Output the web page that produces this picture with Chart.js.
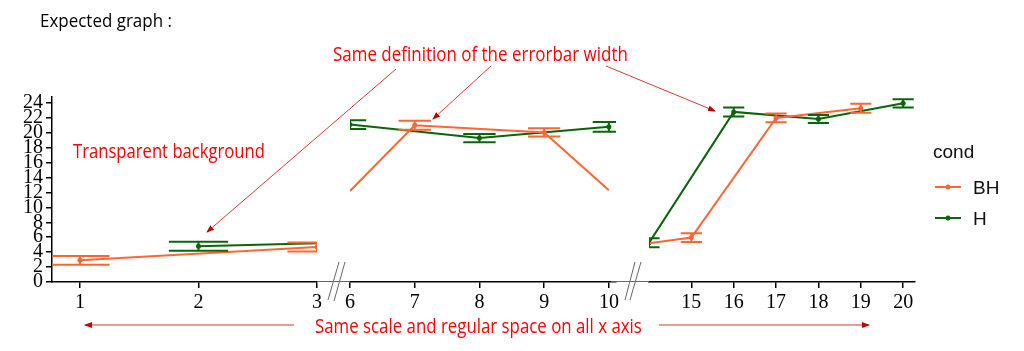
<!DOCTYPE html>
<html>
<head>
<meta charset="utf-8">
<script src="https://cdn.jsdelivr.net/npm/chart.js@4.4.1/dist/chart.umd.min.js"></script>
<style>
  html, body { margin: 0; padding: 0; background: #fff; }
  #wrap { position: relative; width: 1024px; height: 351px; overflow: hidden; }
  #wrap canvas { position: absolute; top: 0; }
  .ann { position: absolute; white-space: nowrap; line-height: 1; transform-origin: left center;
         font-family: "Liberation Sans Narrow", "Open Sans", sans-serif; color: #ff0000; }
  #legend { position: absolute; left: 933px; top: 140px; font-family: "Liberation Sans", Arial, sans-serif; color: #111; }
  #legend .title { font-size: 19px; line-height: 24px; margin-bottom: 8px; }
  #legend .item { position: relative; height: 31px; font-size: 19px; line-height: 31px; padding-left: 40px; }
  #legend svg { position: absolute; left: 2px; top: 10px; }
  #overlay { position: absolute; left: 0; top: 0; }
</style>
</head>
<body>
<div id="wrap">
  <canvas id="p1" width="330" height="351" style="left:0px"></canvas>
  <canvas id="p2" width="300" height="351" style="left:330px"></canvas>
  <canvas id="p3" width="300" height="351" style="left:630px"></canvas>

  <svg id="overlay" width="1024" height="351">
    <defs>
      <marker id="head" markerWidth="8" markerHeight="6" refX="7" refY="3" orient="auto" markerUnits="userSpaceOnUse">
        <path d="M0,0 L8,3 L0,6 z" fill="#c00000"></path>
      </marker>
    </defs>
    <!-- axis break marks -->
    <g stroke="#666" stroke-width="1" fill="none">
      <line x1="317" y1="281.5" x2="350" y2="281.5"></line>
      <line x1="611" y1="281.5" x2="649" y2="281.5"></line>
      <line x1="328" y1="300" x2="339" y2="262"></line>
      <line x1="334" y1="301" x2="345" y2="262"></line>
      <line x1="625" y1="300" x2="635" y2="262"></line>
      <line x1="630" y1="300" x2="641" y2="262"></line>
    </g>
    <!-- annotation arrows -->
    <g stroke="#d83a3a" stroke-width="1" fill="none">
      <line x1="396" y1="69" x2="207" y2="232" marker-end="url(#head)"></line>
      <line x1="491" y1="66" x2="433" y2="119" marker-end="url(#head)"></line>
      <line x1="606" y1="66" x2="715" y2="111" marker-end="url(#head)"></line>
    </g>
    <g stroke="#e99a9a" stroke-width="2" fill="none">
      <line x1="294" y1="325" x2="85" y2="325" marker-end="url(#head)"></line>
      <line x1="659" y1="325" x2="869" y2="325" marker-end="url(#head)"></line>
    </g>
  </svg>

  <div class="ann" style="left:40px;top:20px;color:#000" data-w="132" data-size="19">Expected graph :</div>
  <div class="ann" style="left:333px;top:54px" data-w="295" data-size="20">Same definition of the errorbar width</div>
  <div class="ann" style="left:73px;top:151px" data-w="192" data-size="20">Transparent background</div>
  <div class="ann" style="left:315px;top:326px" data-w="327" data-size="20">Same scale and regular space on all x axis</div>

  <div id="legend"><div class="title">cond</div></div>
</div>

<script>
// series
const seriesNames = ['BH', 'H'];
const seriesColors = ['#ff6633', '#0b650b'];

// y axis
const yTicks = [0, 2, 4, 6, 8, 10, 12, 14, 16, 18, 20, 22, 24];

// panel 1 (x 1..3)
const panel1X = [1, 2, 3];
const panel1BH = [2.9, null, 4.7];
const panel1BHErr = [0.6, null, 0.6];
const panel1H = [null, 4.8, 5.2];
const panel1HErr = [null, 0.6, null];
const panel1Ticks = [1, 2, 3];

// panel 2 (x 6..10)
const panel2X = [6, 7, 8, 9, 10];
const panel2BH = [12.2, 21.0, null, 20.05, 12.3];
const panel2BHErr = [null, 0.6, null, 0.55, null];
const panel2H = [21.1, null, 19.3, null, 20.8];
const panel2HErr = [0.6, null, 0.55, null, 0.65];
const panel2Ticks = [6, 7, 8, 9, 10];

// panel 3 (x 14..20)
const panel3X = [14, 15, 16, 17, 18, 19, 20];
const panel3BH = [5.2, 5.95, null, 22.0, null, 23.3, null];
const panel3BHErr = [null, 0.6, null, 0.6, null, 0.6, null];
const panel3H = [5.25, null, 22.8, null, 21.85, null, 23.95];
const panel3HErr = [0.6, null, 0.6, null, 0.55, null, 0.55];
const panel3Ticks = [15, 16, 17, 18, 19, 20];

const CAP_HALF = 0.25; // errorbar cap half width, in x units
const tickFont = { family: '"Liberation Serif", "Times New Roman", serif', size: 20 };

function points(xs, ys, errs) {
  return xs.map((x, i) => ({ x: x, y: ys[i], err: errs[i] })).filter(p => p.y != null);
}

// draws vertical error bars with caps, through the chart scales
const errorBars = {
  id: 'errorBars',
  afterDatasetsDraw(chart) {
    const ctx = chart.ctx, xs = chart.scales.x, ys = chart.scales.y, a = chart.chartArea;
    ctx.save();
    ctx.beginPath();
    ctx.rect(a.left, a.top, a.right - a.left, a.bottom - a.top);
    ctx.clip();
    for (let i = chart.data.datasets.length - 1; i >= 0; i--) {
      const ds = chart.data.datasets[i];
      ctx.strokeStyle = ds.borderColor;
      ctx.lineWidth = 2;
      ds.data.forEach(p => {
        if (p.err == null) return;
        const x = xs.getPixelForValue(p.x);
        const x0 = xs.getPixelForValue(p.x - CAP_HALF);
        const x1 = xs.getPixelForValue(p.x + CAP_HALF);
        const yt = ys.getPixelForValue(p.y + p.err);
        const yb = ys.getPixelForValue(p.y - p.err);
        ctx.beginPath();
        ctx.moveTo(x, yt); ctx.lineTo(x, yb);
        ctx.moveTo(x0, yt); ctx.lineTo(x1, yt);
        ctx.moveTo(x0, yb); ctx.lineTo(x1, yb);
        ctx.stroke();
      });
    }
    ctx.restore();
  }
};

function dataset(i, data) {
  return {
    label: seriesNames[i],
    data: data,
    borderColor: seriesColors[i],
    backgroundColor: seriesColors[i],
    borderWidth: 2,
    tension: 0,
    pointRadius: c => (c.raw && c.raw.err != null ? 2.5 : 0),
    pointBorderWidth: 0
  };
}

function panel(id, bhData, hData, xMin, xMax, xTicks, showY, padding) {
  const axisLine = { color: '#000', width: 1.5 };
  const tickGrid = { drawOnChartArea: false, tickLength: 6, color: '#000', lineWidth: 1.5 };
  return new Chart(document.getElementById(id), {
    type: 'line',
    data: { datasets: [dataset(0, bhData), dataset(1, hData)] },
    options: {
      responsive: false,
      animation: false,
      events: [],
      layout: { padding: padding },
      plugins: { legend: { display: false }, tooltip: { enabled: false } },
      scales: {
        x: {
          type: 'linear', min: xMin, max: xMax,
          afterBuildTicks: s => { s.ticks = xTicks.map(v => ({ value: v })); },
          afterFit: s => { s.height = 30; },
          ticks: { font: tickFont, color: '#000', maxRotation: 0, autoSkip: false, padding: 3 },
          grid: tickGrid, border: axisLine
        },
        y: {
          min: 0, max: 24.8, display: showY,
          afterBuildTicks: s => { s.ticks = yTicks.map(v => ({ value: v })); },
          afterFit: s => { s.width = showY ? 52 : 0; },
          ticks: { font: tickFont, color: '#000', autoSkip: false, padding: 3 },
          grid: tickGrid, border: axisLine
        }
      }
    },
    plugins: [errorBars]
  });
}

panel('p1', points(panel1X, panel1BH, panel1BHErr), points(panel1X, panel1H, panel1HErr),
      0.764, 3.0, panel1Ticks, true, { left: 0, top: 97, right: 13, bottom: 39 });
panel('p2', points(panel2X, panel2BH, panel2BHErr), points(panel2X, panel2H, panel2HErr),
      6, 10.11, panel2Ticks, false, { left: 20, top: 97, right: 14, bottom: 39 });
panel('p3', points(panel3X, panel3BH, panel3BHErr), points(panel3X, panel3H, panel3HErr),
      14, 20.28, panel3Ticks, false, { left: 19, top: 97, right: 15, bottom: 39 });

// legend
const legend = document.getElementById('legend');
seriesNames.forEach((name, i) => {
  const item = document.createElement('div');
  item.className = 'item';
  item.innerHTML = '<svg width="28" height="10"><line x1="0" y1="5" x2="26" y2="5" stroke="' + seriesColors[i] +
    '" stroke-width="2"/><circle cx="13" cy="5" r="2.5" fill="' + seriesColors[i] + '"/></svg>' + name;
  legend.appendChild(item);
});

// annotation text: centre vertically on the given y, squeeze to the measured width
document.querySelectorAll('.ann').forEach(el => {
  el.style.fontSize = el.dataset.size + 'px';
  const w = el.getBoundingClientRect().width;
  const s = Number(el.dataset.w) / w;
  el.style.transform = 'translateY(-50%) scaleX(' + s.toFixed(3) + ')';
});
</script>
</body>
</html>
